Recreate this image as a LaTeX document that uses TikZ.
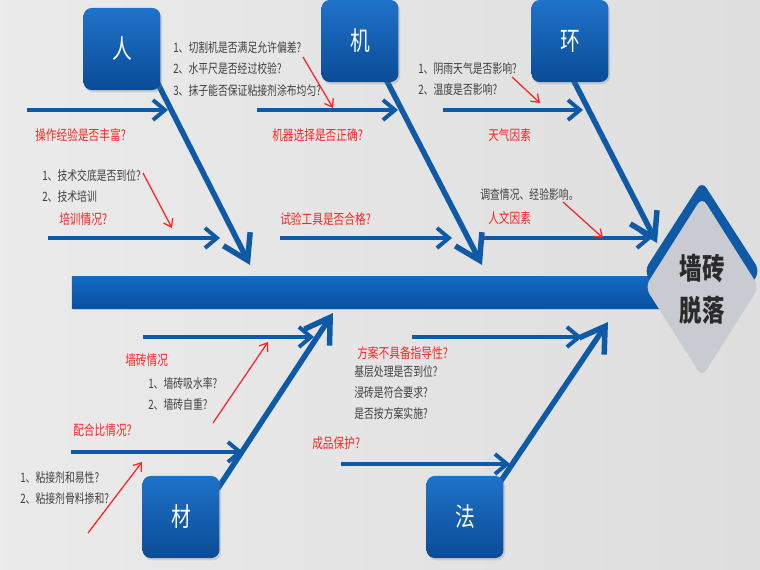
\documentclass[tikz,border=0pt]{standalone}
\usepackage{fontspec}
\newfontfamily\cjk[FakeStretch=0.76]{Noto Sans CJK SC}
\usetikzlibrary{arrows.meta, calc, shapes.geometric, shadows}
\definecolor{fbblue}{HTML}{0E5AA7}
\definecolor{boxtop}{HTML}{1F72CA}
\definecolor{boxbot}{HTML}{0A4C96}
\definecolor{spinetop}{HTML}{1469C2}
\definecolor{spinebot}{HTML}{0A50A0}
\definecolor{alert}{HTML}{FF2424}
\definecolor{txtgray}{HTML}{404040}
\definecolor{headgray}{HTML}{C8CBD1}
\definecolor{dkink}{HTML}{2B2B2B}
\pgfdeclarelayer{back}
\pgfsetlayers{back,main}

\begin{document}
\begin{tikzpicture}[x=0.025cm, y=-0.025cm,
  catbox/.style={rounded corners=2mm, top color=boxtop, bottom color=boxbot,
    minimum width=19.2mm, minimum height=20.5mm, text=white,
    font=\cjk\fontsize{18.5}{20}\selectfont,
    drop shadow={opacity=0.25, shadow xshift=0.4mm, shadow yshift=-0.6mm}},
  cause/.style={anchor=west, inner sep=0pt, text=alert,
    font=\cjk\fontsize{10}{12}\selectfont},
  detail/.style={anchor=west, inner sep=0pt, text=txtgray, align=left,
    font=\cjk\fontsize{9.2}{15}\selectfont},
  bone/.style={-{Straight Barb[length=6mm, width=7.5mm]}, line width=3.9pt, fbblue},
  twig/.style={-{Straight Barb[length=3mm, width=5mm]}, line width=2.8pt, fbblue},
  hint/.style={-{Straight Barb[length=1.8mm, width=2.6mm]}, line width=0.9pt, alert},
]
\useasboundingbox (0,0) rectangle (760,570);

% =============================================
% Category boxes
% =============================================
\node[catbox] (ren)  at (122,49)  {人};
\node[catbox] (ji)   at (360,41)  {机};
\node[catbox] (huan) at (570,41)  {环};
\node[catbox] (cai)  at (181,517) {材};
\node[catbox] (fa)   at (465,517) {法};

% =============================================
% Background, spine and main bones
% =============================================
\begin{pgfonlayer}{back}
\fill[left color=black!8, middle color=black!2, right color=black!13] (0,0) rectangle (760,570);

\node[top color=spinetop, bottom color=spinebot, minimum width=147.5mm, minimum height=7.75mm,
  inner sep=0pt, drop shadow={opacity=0.3, shadow xshift=0.3mm, shadow yshift=-0.5mm}]
  (spine) at (367,292.5) {};

\coordinate (renTip)  at (250,265);
\coordinate (jiTip)   at (482,265);
\coordinate (huanTip) at (657,243);
\coordinate (caiTip)  at (333,313);
\coordinate (faTip)   at (608,322);

\draw[bone] ($(ren.south east)+(-3.5,-8)$) -- (renTip);
\draw[bone] ($(ji.south)+(26,-3)$) -- (jiTip);
\draw[bone] ($(huan.south)+(3,-3)$) -- (huanTip);
\draw[bone] ($(cai.north east)+(-2,13)$) -- (caiTip);
\draw[bone] ($(fa.north east)+(-8,13)$) -- (faTip);
\end{pgfonlayer}

% =============================================
% Head
% =============================================
\node[diamond, fill=fbblue, minimum width=29mm, minimum height=45mm, inner sep=0pt,
  rounded corners=2mm] (headback) at (702,271) {};
\node[diamond, fill=headgray, minimum width=28.5mm, minimum height=45mm, inner sep=0pt,
  rounded corners=2mm] (head) at (702,287) {};
\node[text=dkink, align=center, font=\cjk\bfseries\fontsize{21}{30}\selectfont]
  (headtext) at (702,289) {墙砖\\脱落};

% =============================================
% Sub-bones
% =============================================
\coordinate (a1s) at (27,110);   \coordinate (a1e) at (168,110);
\coordinate (b1s) at (257,110);  \coordinate (b1e) at (398,110);
\coordinate (c1s) at (443,110);  \coordinate (c1e) at (583,110);
\coordinate (a2s) at (48,238);   \coordinate (a2e) at (220,238);
\coordinate (b2s) at (280,238);  \coordinate (b2e) at (452,238);
\coordinate (c2s) at (483,238);  \coordinate (c2e) at (652,238);
\coordinate (d1s) at (143,337);  \coordinate (d1e) at (314,337);
\coordinate (e1s) at (412,337);  \coordinate (e1e) at (582,337);
\coordinate (d2s) at (71,452);   \coordinate (d2e) at (243,452);
\coordinate (e2s) at (341,464);  \coordinate (e2e) at (510,464);

\draw[twig] (a1s) -- (a1e);
\draw[twig] (b1s) -- (b1e);
\draw[twig] (c1s) -- (c1e);
\draw[twig] (a2s) -- (a2e);
\draw[twig] (b2s) -- (b2e);
\draw[twig] (c2s) -- (c2e);
\draw[twig] (d1s) -- (d1e);
\draw[twig] (e1s) -- (e1e);
\draw[twig] (d2s) -- (d2e);
\draw[twig] (e2s) -- (e2e);

% =============================================
% Cause labels
% =============================================
\node[cause] (jingyan)  at (35,135)  {操作经验是否丰富?};
\node[cause] (jiqi)     at (272,135) {机器选择是否正确?};
\node[cause] (tianqi)   at (488,135) {天气因素};
\node[cause] (peixun)   at (59,219)  {培训情况?};
\node[cause] (gongju)   at (280,219) {试验工具是否合格?};
\node[cause] (renwen)   at (488,218) {人文因素};
\node[cause] (qiangzhuan) at (125,360) {墙砖情况};
\node[cause] (peihebi)  at (73,430)  {配合比情况?};
\node[cause] (fangan)   at (357,353) {方案不具备指导性?};
\node[cause] (baohu)    at (312,443) {成品保护?};

% =============================================
% Detail lists
% =============================================
\node[detail] (jiList) at (173,69)
  {1、切割机是否满足允许偏差?\\2、水平尺是否经过校验?\\3、抹子能否保证粘接剂涂布均匀?};
\node[detail] (huanList) at (418,79) {1、阴雨天气是否影响?\\2、温度是否影响?};
\node[detail] (renList) at (42,186) {1、技术交底是否到位?\\2、技术培训};
\node[detail] (renwenList) at (480,195) {调查情况、经验影响。};
\node[detail] (zhuanList) at (148,394.5) {1、墙砖吸水率?\\2、墙砖自重?};
\node[detail] (faList) at (354,392.5)
  {基层处理是否到位?\\浸砖是符合要求?\\是否按方案实施?};
\node[detail] (caiList) at (20,488) {1、粘接剂和易性?\\2、粘接剂骨料掺和?};

% =============================================
% Red pointers
% =============================================
\coordinate (h1a) at (303,57);  \coordinate (h1b) at (333,108);
\coordinate (h2a) at (512,77);  \coordinate (h2b) at (540,103);
\coordinate (h3a) at (143,173); \coordinate (h3b) at (172,228);
\coordinate (h4a) at (563,202); \coordinate (h4b) at (603,238);
\coordinate (h5a) at (213,423); \coordinate (h5b) at (268,342);
\coordinate (h6a) at (88,533);  \coordinate (h6b) at (142,462);

\draw[hint] (h1a) -- (h1b);
\draw[hint] (h2a) -- (h2b);
\draw[hint] (h3a) -- (h3b);
\draw[hint] (h4a) -- (h4b);
\draw[hint] (h5a) -- (h5b);
\draw[hint] (h6a) -- (h6b);

\end{tikzpicture}
\end{document}
